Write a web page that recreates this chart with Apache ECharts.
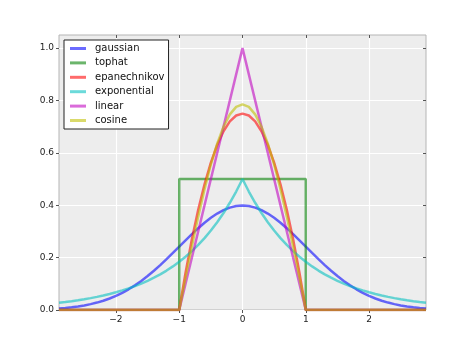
<!DOCTYPE html>
<html><head><meta charset="utf-8">
<script src="https://cdn.jsdelivr.net/npm/echarts@6/dist/echarts.min.js"></script>
<style>html,body{margin:0;padding:0;background:#fff}#c{width:474px;height:355px}</style>
</head><body><div id="c"></div>
<script>
var xs = [-2.9,-2.8,-2.7,-2.6,-2.5,-2.4,-2.3,-2.2,-2.1,-2.0,-1.9,-1.8,-1.7,-1.6,-1.5,-1.4,-1.3,-1.2,-1.1,-1.0,-0.9,-0.8,-0.7,-0.6,-0.5,-0.4,-0.3,-0.2,-0.1,0,0.1,0.2,0.3,0.4,0.5,0.6,0.7,0.8,0.9,1.0,1.1,1.2,1.3,1.4,1.5,1.6,1.7,1.8,1.9,2.0,2.1,2.2,2.3,2.4,2.5,2.6,2.7,2.8,2.9];
var gaussian = [0.0060,0.0079,0.0104,0.0136,0.0175,0.0224,0.0283,0.0355,0.0440,0.0540,0.0656,0.0790,0.0940,0.1109,0.1295,0.1497,0.1714,0.1942,0.2179,0.2420,0.2661,0.2897,0.3123,0.3332,0.3521,0.3683,0.3814,0.3910,0.3970,0.3989,0.3970,0.3910,0.3814,0.3683,0.3521,0.3332,0.3123,0.2897,0.2661,0.2420,0.2179,0.1942,0.1714,0.1497,0.1295,0.1109,0.0940,0.0790,0.0656,0.0540,0.0440,0.0355,0.0283,0.0224,0.0175,0.0136,0.0104,0.0079,0.0060];
var exponential = [0.0275,0.0304,0.0336,0.0371,0.0410,0.0454,0.0501,0.0554,0.0612,0.0677,0.0748,0.0826,0.0913,0.1009,0.1116,0.1233,0.1363,0.1506,0.1665,0.1839,0.2033,0.2247,0.2483,0.2744,0.3033,0.3352,0.3704,0.4094,0.4524,0.5,0.4524,0.4094,0.3704,0.3352,0.3033,0.2744,0.2483,0.2247,0.2033,0.1839,0.1665,0.1506,0.1363,0.1233,0.1116,0.1009,0.0913,0.0826,0.0748,0.0677,0.0612,0.0554,0.0501,0.0454,0.0410,0.0371,0.0336,0.0304,0.0275];
var tophatX = [-2.9,-1.0,-1.0,1.0,1.0,2.9];
var tophat = [0,0,0.5,0.5,0,0];
var kernX = [-2.9,-1.0,-0.9,-0.8,-0.7,-0.6,-0.5,-0.4,-0.3,-0.2,-0.1,0,0.1,0.2,0.3,0.4,0.5,0.6,0.7,0.8,0.9,1.0,2.9];
var epanechnikov = [0,0,0.1425,0.27,0.3825,0.48,0.5625,0.63,0.6825,0.72,0.7425,0.75,0.7425,0.72,0.6825,0.63,0.5625,0.48,0.3825,0.27,0.1425,0,0];
var cosine = [0,0,0.1229,0.2427,0.3566,0.4616,0.5554,0.6354,0.6998,0.7470,0.7757,0.7854,0.7757,0.7470,0.6998,0.6354,0.5554,0.4616,0.3566,0.2427,0.1229,0,0];
var linearX = [-2.9,-1.0,0,1.0,2.9];
var linear = [0,0,1,0,0];
var xTicks = [-2,-1,0,1,2];
var yTicks = [0,0.2,0.4,0.6,0.8,1.0];
var names = ['gaussian','tophat','epanechnikov','exponential','linear','cosine'];
var colors = ['rgba(0,0,255,0.58)','rgba(0,128,0,0.58)','rgba(255,0,0,0.58)','rgba(0,191,191,0.58)','rgba(191,0,191,0.58)','rgba(191,191,0,0.58)'];

function pairs(x, y){ return x.map(function(v,i){return [v,y[i]];}); }
var seriesData = [pairs(xs,gaussian), pairs(tophatX,tophat), pairs(kernX,epanechnikov), pairs(xs,exponential), pairs(linearX,linear), pairs(kernX,cosine)];

var FONT = 'DejaVu Sans';
var chart = echarts.init(document.getElementById('c'), null, {renderer:'canvas'});
function fmtX(v){ return v < 0 ? '\u2212' + Math.abs(v) : String(v); }
var series = names.map(function(n,i){
  return {name:n, type:'line', xAxisIndex:0, yAxisIndex:0, data:seriesData[i], showSymbol:false, symbol:'none',
    lineStyle:{color:colors[i], width:2.5}, itemStyle:{color:colors[i]}, animation:false, z:2+i};
});
chart.setOption({
  animation:false,
  backgroundColor:'#fff',
  grid:{left:59, right:48, top:35, bottom:45, show:true, backgroundColor:'#ededed', borderColor:'#b5b5b5', borderWidth:1},
  legend:{data:names, orient:'vertical', left:64, top:40, padding:[2,4,2,6], itemGap:1.4, itemWidth:16, itemHeight:3, icon:'rect',
    backgroundColor:'#fff', borderColor:'#222', borderWidth:1, borderRadius:0,
    textStyle:{fontFamily:FONT, fontSize:10, color:'#111', lineHeight:13, padding:[0,0,0,4]}},
  xAxis:[{type:'value', min:-2.9, max:2.9, position:'bottom',
      axisLine:{show:false, onZero:false},
      axisTick:{show:true, length:3, inside:false, lineStyle:{color:'#555'}, customValues:xTicks},
      axisLabel:{fontFamily:FONT, fontSize:9, color:'#222', margin:5, customValues:xTicks, formatter:fmtX},
      splitLine:{show:true, lineStyle:{color:'#fff', width:1.2}}},
    {type:'value', min:-2.9, max:2.9, position:'top',
      axisLine:{show:false, onZero:false}, axisTick:{show:true, inside:true, length:3, lineStyle:{color:'#555'}, customValues:xTicks},
      axisLabel:{show:false, customValues:xTicks}, splitLine:{show:false}}],
  yAxis:[{type:'value', min:0, max:1.05, position:'left',
      axisLine:{show:false, onZero:false},
      axisTick:{show:true, length:3, lineStyle:{color:'#555'}, customValues:yTicks},
      axisLabel:{fontFamily:FONT, fontSize:9, color:'#222', margin:5, customValues:yTicks, formatter:function(v){return v.toFixed(1);}},
      splitLine:{show:true, lineStyle:{color:'#fff', width:1.2}}},
    {type:'value', min:0, max:1.05, position:'right',
      axisLine:{show:false, onZero:false}, axisTick:{show:true, inside:true, length:3, lineStyle:{color:'#555'}, customValues:yTicks},
      axisLabel:{show:false, customValues:yTicks}, splitLine:{show:false}}],
  series:series
});
</script></body></html>
